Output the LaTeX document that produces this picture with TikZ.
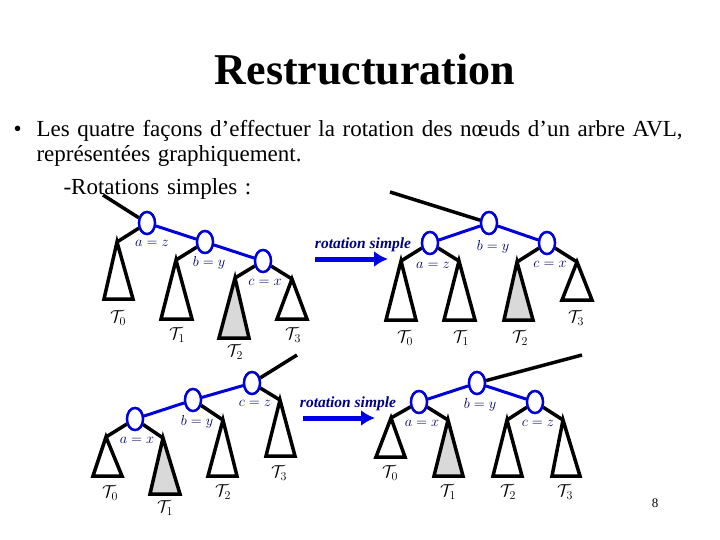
\documentclass[tikz,border=0pt]{standalone}
\usepackage{fontspec}
\setmainfont{Liberation Serif}
\begin{document}
\begin{tikzpicture}[x=1pt,y=-1pt,
  nd/.style={draw=blue!85!black,line width=2.4pt,fill=white,ellipse,minimum width=16pt,minimum height=22pt,inner sep=0pt},
  bl/.style={draw=blue!85!black,line width=3pt},
  bk/.style={draw=black,line width=3.5pt},
  tr/.style={draw=black,line width=3.5pt,line join=miter},
  lab/.style={text=blue!40!black,font=\fontsize{15}{15}\selectfont\itshape},
  tl/.style={font=\fontsize{18}{18}\selectfont},
  arr/.style={draw=blue!90!black,line width=5pt,-{Latex[length=14pt,width=16pt]}},
  rs/.style={text=blue!50!black,font=\fontsize{15.5}{15.5}\selectfont\bfseries\itshape}]
\usetikzlibrary{shapes.geometric,arrows.meta}
\useasboundingbox (0,0) rectangle (720,540);
\newcommand{\tri}[7]{%
  \coordinate (#1) at (#2,#3);
  \path[tr,fill=#7] (#1) -- (#4,#6) -- (#5,#6) -- cycle;}
\node[font=\fontsize{44}{44}\selectfont\bfseries] (title) at (365,70) {Restructuration};
\node[anchor=west,font=\fontsize{23}{25}\selectfont,align=left,text width=700pt] (txt) at (10,160)
 {\makebox[23pt][l]{•}Les quatre façons d’effectuer la rotation des nœuds d’un arbre AVL,\\
  \hspace*{23pt}représentées graphiquement.\\[8pt]
  \hspace*{50pt}-Rotations simples :};
\node[font=\fontsize{13}{13}\selectfont] (pg) at (655,503) {8};
% Diagram 1
\coordinate (p1) at (103,195);
\node[nd] (a1) at (147,223) {}; \node[nd] (b1) at (205,242) {}; \node[nd] (c1) at (263,261) {};
\tri{t10}{117}{242}{104}{133}{299}{white}
\tri{t11}{176}{260}{161}{192}{319}{white}
\tri{t12}{235}{278}{219}{249}{338}{black!15}
\tri{t13}{292}{279}{277}{307}{319}{white}
\draw[bk] (p1) -- (a1); \draw[bk] (a1) -- (t10); \draw[bk] (b1) -- (t11);
\draw[bk] (c1) -- (t12); \draw[bk] (c1) -- (t13);
\draw[bl] (a1) -- (b1) -- (c1);
\node[nd] at (a1) {}; \node[nd] at (b1) {}; \node[nd] at (c1) {};
\node[lab] (la1) at (152,243) {$a=z$}; \node[lab] (lb1) at (209,263) {$b=y$}; \node[lab] (lc1) at (265,282) {$c=x$};
\node[tl] (T10) at (118,318) {$\mathcal{T}_0$}; \node[tl] (T11) at (177,335) {$\mathcal{T}_1$};
\node[tl] (T12) at (235,352) {$\mathcal{T}_2$}; \node[tl] (T13) at (293,335) {$\mathcal{T}_3$};
% Arrow 1
\coordinate (ar1s) at (315,259); \coordinate (ar1e) at (388,259);
\draw[arr] (ar1s) -- (ar1e);
\node[rs] (rs1) at (363,245) {rotation simple};
% Diagram 2
\coordinate (p2) at (390,192);
\node[nd] (b2) at (489,223) {}; \node[nd] (a2) at (430,243) {}; \node[nd] (c2) at (547,243) {};
\tri{t20}{401}{261}{386}{416}{320}{white}
\tri{t21}{459}{261}{444}{475}{320}{white}
\tri{t22}{517}{262}{504}{533}{320}{black!15}
\tri{t23}{577}{262}{562}{592}{300}{white}
\draw[bk] (p2) -- (b2); \draw[bk] (a2) -- (t20); \draw[bk] (a2) -- (t21);
\draw[bk] (c2) -- (t22); \draw[bk] (c2) -- (t23);
\draw[bl] (a2) -- (b2) -- (c2);
\node[nd] at (a2) {}; \node[nd] at (b2) {}; \node[nd] at (c2) {};
\node[lab] (lb2) at (493,247) {$b=y$}; \node[lab] (la2) at (433,265) {$a=z$}; \node[lab] (lc2) at (550,264) {$c=x$};
\node[tl] (T20) at (405,338) {$\mathcal{T}_0$}; \node[tl] (T21) at (461,338) {$\mathcal{T}_1$};
\node[tl] (T22) at (520,338) {$\mathcal{T}_2$}; \node[tl] (T23) at (576,318) {$\mathcal{T}_3$};
% Diagram 3
\coordinate (p3) at (297,355);
\node[nd] (c3) at (252,383) {}; \node[nd] (b3) at (193,400) {}; \node[nd] (a3) at (135,419) {};
\tri{t30}{106}{437}{93}{122}{476}{white}
\tri{t31}{163}{438}{150}{180}{494}{black!15}
\tri{t32}{223}{420}{208}{237}{476}{white}
\tri{t33}{280}{400}{266}{295}{456}{white}
\draw[bk] (p3) -- (c3); \draw[bk] (a3) -- (t30); \draw[bk] (a3) -- (t31);
\draw[bk] (b3) -- (t32); \draw[bk] (c3) -- (t33);
\draw[bl] (a3) -- (b3) -- (c3);
\node[nd] at (a3) {}; \node[nd] at (b3) {}; \node[nd] at (c3) {};
\node[lab] (lc3) at (255,403) {$c=z$}; \node[lab] (lb3) at (197,422) {$b=y$}; \node[lab] (la3) at (137,440) {$a=x$};
\node[tl] (T30) at (110,493) {$\mathcal{T}_0$}; \node[tl] (T31) at (165,508) {$\mathcal{T}_1$};
\node[tl] (T32) at (223,492) {$\mathcal{T}_2$}; \node[tl] (T33) at (279,473) {$\mathcal{T}_3$};
% Arrow 2
\coordinate (ar2s) at (303,418); \coordinate (ar2e) at (375,418);
\draw[arr] (ar2s) -- (ar2e);
\node[rs] (rs2) at (348,404) {rotation simple};
% Diagram 4
\coordinate (p4) at (582,355);
\node[nd] (b4) at (477,383) {}; \node[nd] (a4) at (419,402) {}; \node[nd] (c4) at (535,402) {};
\tri{t40}{391}{418}{376}{405}{457}{white}
\tri{t41}{448}{420}{434}{463}{476}{black!15}
\tri{t42}{507}{420}{493}{522}{476}{white}
\tri{t43}{563}{420}{552}{580}{476}{white}
\draw[bk] (p4) -- (b4); \draw[bk] (a4) -- (t40); \draw[bk] (a4) -- (t41);
\draw[bk] (c4) -- (t42); \draw[bk] (c4) -- (t43);
\draw[bl] (a4) -- (b4) -- (c4);
\node[nd] at (a4) {}; \node[nd] at (b4) {}; \node[nd] at (c4) {};
\node[lab] (lb4) at (480,405) {$b=y$}; \node[lab] (la4) at (422,423) {$a=x$}; \node[lab] (lc4) at (538,423) {$c=z$};
\node[tl] (T40) at (390,473) {$\mathcal{T}_0$}; \node[tl] (T41) at (448,492) {$\mathcal{T}_1$};
\node[tl] (T42) at (508,492) {$\mathcal{T}_2$}; \node[tl] (T43) at (565,492) {$\mathcal{T}_3$};
\end{tikzpicture}
\end{document}
